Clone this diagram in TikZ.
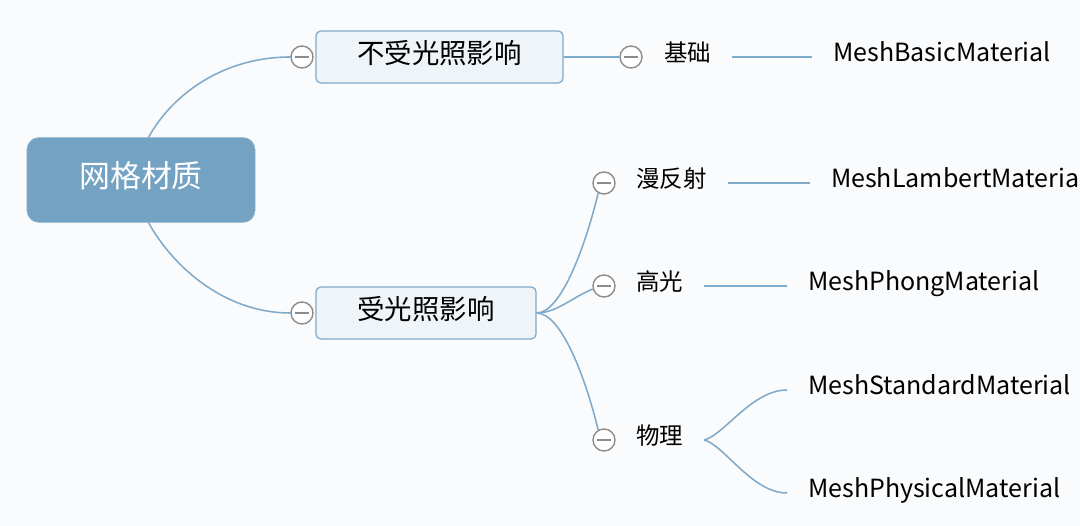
\documentclass[tikz,border=0pt]{standalone}
\usepackage{fontspec}
\setmainfont{Noto Sans CJK SC}
\definecolor{paper}{HTML}{FAFBFC}
\definecolor{rootblue}{HTML}{74A2C2}
\definecolor{linkblue}{HTML}{80AACA}
\definecolor{boxfill}{HTML}{EEF4F8}
\definecolor{foldgray}{HTML}{8C8C8C}
\tikzset{
	root/.style={fill=rootblue,draw=rootblue!80!white,rounded corners=0.3cm,minimum width=5.7cm,minimum height=2.12cm,text=white,text height=0.7cm,text depth=0.31cm,font=\fontsize{22}{26}\selectfont},
	topic/.style={fill=boxfill,draw=linkblue,line width=0.9pt,rounded corners=0.12cm,minimum height=1.3cm,text height=0.6cm,text depth=0.28cm,font=\fontsize{19.5}{23}\selectfont},
	fold/.style={circle,draw=foldgray,fill=white,line width=1pt,minimum size=0.55cm,inner sep=0pt,path picture={\draw[foldgray,line width=1.2pt] ([xshift=-0.17cm]path picture bounding box.center)--([xshift=0.17cm]path picture bounding box.center);}},
	leaf/.style={anchor=west,inner xsep=0.52cm,inner ysep=0pt,text height=0.5cm,text depth=0.254cm,font=\fontsize{16.7}{20}\selectfont},
	mat/.style={leaf,font=\fontsize{17.8}{21}\selectfont},
	link/.style={draw=linkblue,line width=1.1pt},
}
\begin{document}
\begin{tikzpicture}[x=0.025cm,y=0.025cm]
	\fill[paper] (0,0) rectangle (1080,526);
	\useasboundingbox (0,0) rectangle (1080,526);
	\node[root] (mesh) at (141,346) {网格材质};
	\node[fold] (f1) at (302,469) {};
	\node[topic,minimum width=6.175cm] (unlit) at (439.5,469) {不受光照影响};
	\node[fold] (f2) at (302,213) {};
	\node[topic,minimum width=5.5cm] (lit) at (426,213) {受光照影响};
	\node[fold] (fbasic) at (631,469) {};
	\node[leaf] (basic) at (643,469) {基础};
	\node[mat] (basicm) at (812,469) {MeshBasicMaterial};
	\node[fold] (flam) at (604,343) {};
	\node[leaf] (lam) at (615,343) {漫反射};
	\node[mat] (lamm) at (810,343) {MeshLambertMaterial};
	\node[fold] (fphong) at (604,240) {};
	\node[leaf] (phong) at (615,240) {高光};
	\node[mat] (phongm) at (787,240) {MeshPhongMaterial};
	\node[fold] (fphys) at (604,86) {};
	\node[leaf] (phys) at (615,86) {物理};
	\node[mat] (std) at (787,136) {MeshStandardMaterial};
	\node[mat] (physm) at (787,33) {MeshPhysicalMaterial};
	\draw[link] (mesh.80) .. controls +(25,45) and +(-65,0) .. (f1.west);
	\draw[link] (mesh.-80) .. controls +(25,-45) and +(-65,0) .. (f2.west);
	\draw[link] (unlit.east) -- (fbasic.west);
	\draw[link] (basic.east) -- (basicm.west);
	\draw[link] (lit.east) .. controls +(25,0) and +(-12,-50) .. (flam.240);
	\draw[link] (lit.east) .. controls +(20,0) and +(-20,-8) .. (fphong.195);
	\draw[link] (lit.east) .. controls +(25,0) and +(-12,50) .. (fphys.120);
	\draw[link] (lam.east) -- (lamm.west);
	\draw[link] (phong.east) -- (phongm.west);
	\draw[link] (phys.east) .. controls +(20,5) and +(-35,0) .. (std.west);
	\draw[link] (phys.east) .. controls +(20,-5) and +(-35,0) .. (physm.west);
\end{tikzpicture}
\end{document}
